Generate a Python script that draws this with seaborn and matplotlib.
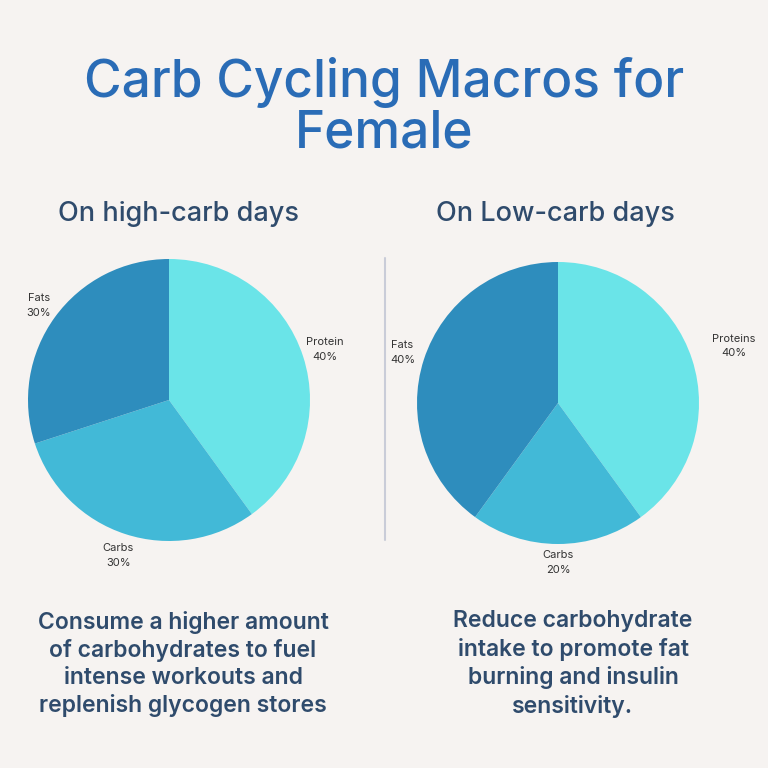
import matplotlib
matplotlib.use("Agg")
import matplotlib.pyplot as plt
import seaborn as sns
import numpy as np
from matplotlib.lines import Line2D

# data
high_labels = ["Protein", "Carbs", "Fats"]
high_values = [40, 30, 30]
low_labels = ["Proteins", "Carbs", "Fats"]
low_values = [40, 20, 40]

colors = ["#6AE4E8", "#42B9D7", "#2E8DBD"]
bg = "#F6F3F1"

sns.set_theme(style="white")
plt.rcParams["font.family"] = ["Inter", "DejaVu Sans"]

fig = plt.figure(figsize=(7.68, 7.68), dpi=100, facecolor=bg)

W = 768.0


def add_pie(cx, cy, r, values, labels, ldists):
    ax = fig.add_axes([(cx - r) / W, 1 - (cy + r) / W, 2 * r / W, 2 * r / W])
    ax.set_facecolor("none")
    wedges, texts = ax.pie(
        values,
        labels=[f"{l}\n{v}%" for l, v in zip(labels, values)],
        colors=colors,
        startangle=90,
        counterclock=False,
        labeldistance=1.15,
        wedgeprops=dict(linewidth=0),
        textprops=dict(fontsize=8, color="#333333", linespacing=1.6),
    )
    for w, t, d in zip(wedges, texts, ldists):
        mid = np.deg2rad((w.theta1 + w.theta2) / 2)
        t.set_position((d * np.cos(mid), d * np.sin(mid)))
        t.set_ha("center")
        t.set_va("center")
    ax.set_xlim(-1, 1)
    ax.set_ylim(-1, 1)
    ax.axis("off")
    return ax


add_pie(169, 400, 141, high_values, high_labels, [1.16, 1.16, 1.14])
add_pie(558, 403, 141, low_values, low_labels, [1.31, 1.13, 1.16])

# divider
fig.add_artist(Line2D([385 / W, 385 / W], [1 - 258 / W, 1 - 540 / W], color="#C9CCD8", lw=1.5))

title_color = "#2A6CB6"
sub_color = "#2F4B6C"
fig.text(0.5, 1 - 82 / W, "Carb Cycling Macros for", ha="center", va="center",
         fontsize=37, color=title_color, fontweight="medium")
fig.text(0.5, 1 - 134 / W, "Female", ha="center", va="center",
         fontsize=37, color=title_color, fontweight="medium")

fig.text(178 / W, 1 - 214 / W, "On high-carb days", ha="center", va="center",
         fontsize=19.5, color=sub_color, fontweight="medium")
fig.text(555 / W, 1 - 214 / W, "On Low-carb days", ha="center", va="center",
         fontsize=19.5, color=sub_color, fontweight="medium")

fig.text(183 / W, 1 - 664 / W,
         "Consume a higher amount\nof carbohydrates to fuel\nintense workouts and\nreplenish glycogen stores",
         ha="center", va="center", fontsize=16.5, color=sub_color, fontweight="semibold",
         linespacing=1.3)
fig.text(573 / W, 1 - 664 / W,
         "Reduce carbohydrate\nintake to promote fat\nburning and insulin\nsensitivity.",
         ha="center", va="center", fontsize=16.5, color=sub_color, fontweight="semibold",
         linespacing=1.3)

fig.savefig("out.png", dpi=100, facecolor=bg)
